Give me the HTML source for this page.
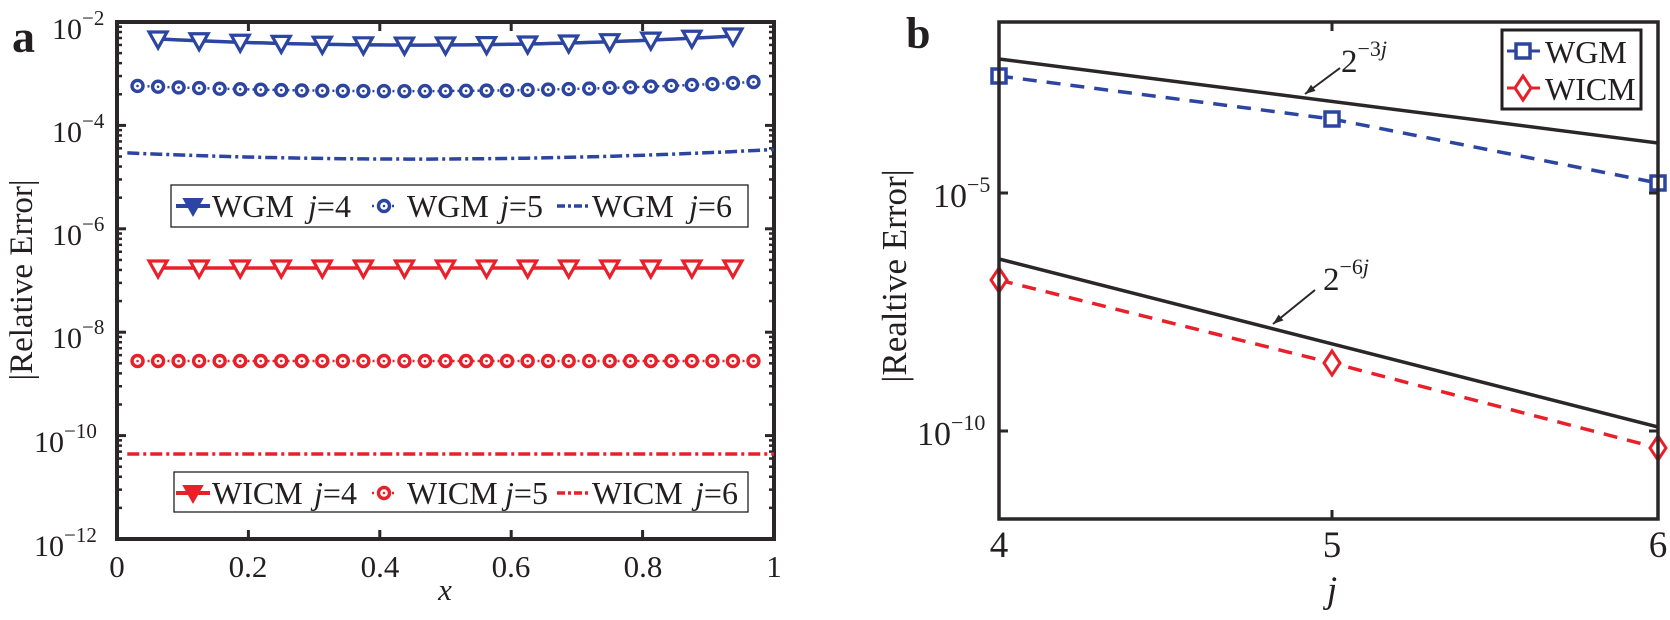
<!DOCTYPE html>
<html><head><meta charset="utf-8"><style>
html,body{margin:0;padding:0;background:#fff;}
svg{display:block;font-family:"Liberation Serif",serif;}
</style></head><body>
<svg id="s" width="1670" height="620" viewBox="0 0 1670 620" xmlns="http://www.w3.org/2000/svg">
<rect width="1670" height="620" fill="#fff"/>
<rect x="171" y="185" width="577" height="42" fill="#fff" stroke="#231f20" stroke-width="1.3"/>
<rect x="174" y="472" width="574" height="40" fill="#fff" stroke="#231f20" stroke-width="1.3"/>
<rect x="1502" y="30" width="139" height="79" fill="#fff" stroke="#231f20" stroke-width="3"/>
<g id="g"></g>
<!-- Panel a texts -->
<text x="12" y="52" font-size="46" font-weight="bold" fill="#231f20">a</text>
<g font-size="30" fill="#231f20">
<text x="52" y="39">10<tspan font-size="21" dy="-14">−2</tspan></text>
<text x="52" y="142">10<tspan font-size="21" dy="-14">−4</tspan></text>
<text x="52" y="245">10<tspan font-size="21" dy="-14">−6</tspan></text>
<text x="52" y="348">10<tspan font-size="21" dy="-14">−8</tspan></text>
<text x="34" y="452">10<tspan font-size="21" dy="-14">−10</tspan></text>
<text x="34" y="556">10<tspan font-size="21" dy="-14">−12</tspan></text>
</g>
<g font-size="31" fill="#231f20" text-anchor="middle">
<text x="117" y="577">0</text><text x="248" y="577">0.2</text><text x="380" y="577">0.4</text>
<text x="511" y="577">0.6</text><text x="643" y="577">0.8</text><text x="774" y="577">1</text>
<text x="445" y="600" font-style="italic">x</text>
</g>
<text transform="translate(32,280) rotate(-90)" font-size="33" text-anchor="middle" fill="#231f20">|Relative Error|</text>
<g font-size="32" fill="#231f20">
<text x="212" y="217">WGM</text><text x="308" y="217"><tspan font-style="italic">j</tspan>=4</text>
<text x="407" y="217">WGM</text><text x="500" y="217"><tspan font-style="italic">j</tspan>=5</text>
<text x="592" y="217">WGM</text><text x="689" y="217"><tspan font-style="italic">j</tspan>=6</text>
<text x="212" y="504">WICM</text><text x="314" y="504"><tspan font-style="italic">j</tspan>=4</text>
<text x="407" y="504">WICM</text><text x="505" y="504"><tspan font-style="italic">j</tspan>=5</text>
<text x="592" y="504">WICM</text><text x="695" y="504"><tspan font-style="italic">j</tspan>=6</text>
</g>
<!-- Panel b texts -->
<text x="906" y="48" font-size="44" font-weight="bold" fill="#231f20">b</text>
<g font-size="34" fill="#231f20">
<text x="933" y="207">10<tspan font-size="22" dy="-15">−5</tspan></text>
<text x="917" y="445">10<tspan font-size="22" dy="-15">−10</tspan></text>
</g>
<g font-size="37" fill="#231f20" text-anchor="middle">
<text x="999" y="557">4</text><text x="1332" y="557">5</text><text x="1658" y="557">6</text>
<text x="1332" y="602" font-style="italic">j</text>
</g>
<text transform="translate(906,276) rotate(-90)" font-size="35" text-anchor="middle" fill="#231f20">|Realtive Error|</text>
<g font-size="33" fill="#231f20">
<text x="1341" y="72">2<tspan font-size="22" dy="-16">−3<tspan font-style="italic">j</tspan></tspan></text>
<text x="1323" y="290">2<tspan font-size="22" dy="-16">−6<tspan font-style="italic">j</tspan></tspan></text>
</g>
<g font-size="32" fill="#231f20">
<text x="1545" y="63">WGM</text>
<text x="1545" y="100">WICM</text>
</g>
</svg>
<script>
var NS="http://www.w3.org/2000/svg",G=document.getElementById('g');
function el(t,a){var e=document.createElementNS(NS,t);for(var k in a)e.setAttribute(k,a[k]);G.appendChild(e);return e;}
var B="#2c45a0",R="#e8202a",K="#2b2627";
var L=117,Rt=774,T=22,Bt=539,dec=103.4;
function X(x){return L+(Rt-L)*x;}
for(var d=0;d<5;d++){for(var m=2;m<10;m++){var y=Bt-(d*dec+Math.log10(m)*dec);
 el('line',{x1:L,y1:y,x2:L+5,y2:y,stroke:K,'stroke-width':2.5});el('line',{x1:Rt,y1:y,x2:Rt-5,y2:y,stroke:K,'stroke-width':2.5});}}
for(var d=0;d<=5;d++){var y=Bt-d*dec;el('line',{x1:L,y1:y,x2:L+9,y2:y,stroke:K,'stroke-width':3});el('line',{x1:Rt,y1:y,x2:Rt-9,y2:y,stroke:K,'stroke-width':3});}
for(var i=1;i<5;i++){var x=X(i*0.2);el('line',{x1:x,y1:Bt,x2:x,y2:Bt-9,stroke:K,'stroke-width':3});el('line',{x1:x,y1:T,x2:x,y2:T+9,stroke:K,'stroke-width':3});}
el('rect',{x:L,y:T,width:Rt-L,height:Bt-T,fill:'none',stroke:K,'stroke-width':4});
function tri(x,y,c){el('path',{d:'M'+(x-9)+','+(y-7)+' L'+(x+9)+','+(y-7)+' L'+x+','+(y+9)+' Z',fill:'#fff',stroke:c,'stroke-width':3.2});}
function triF(x,y,c){el('path',{d:'M'+(x-9)+','+(y-7)+' L'+(x+9)+','+(y-7)+' L'+x+','+(y+9)+' Z',fill:c,stroke:c,'stroke-width':2});}
function circ(x,y,c){el('circle',{cx:x,cy:y,r:5.5,fill:'#fff',stroke:c,'stroke-width':3.4});el('circle',{cx:x,cy:y,r:1.3,fill:c});}
function curve(b,c,y0,x0,x1,n){var p=[];for(var i=0;i<=n;i++){var x=x0+(x1-x0)*i/n,t=2*x-1;p.push(X(x).toFixed(1)+','+(y0+b*t*t+c*t).toFixed(1));}return p.join(' ');}
el('polyline',{points:curve(-9.8,-1.7,45,1/16,15/16,60),fill:'none',stroke:B,'stroke-width':3.5});
for(var k=1;k<16;k++){var x=k/16,t=2*x-1;tri(X(x),45-9.8*t*t-1.7*t,B);}
el('polyline',{points:curve(-8,-2.1,91,1/32,31/32,60),fill:'none',stroke:B,'stroke-width':2.5,'stroke-dasharray':'2,3'});
for(var k=1;k<32;k++){var x=k/32,t=2*x-1;circ(X(x),91-8*t*t-2.1*t,B);}
el('polyline',{points:curve(-8,-1.5,159,1/64,1,60),fill:'none',stroke:B,'stroke-width':3.5,'stroke-dasharray':'12,4,3,4'});
el('line',{x1:X(1/16),y1:268,x2:X(15/16),y2:268,stroke:R,'stroke-width':3.5});
for(var k=1;k<16;k++)tri(X(k/16),268,R);
el('line',{x1:X(1/32),y1:361,x2:X(31/32),y2:361,stroke:R,'stroke-width':2.5,'stroke-dasharray':'2,3'});
for(var k=1;k<32;k++)circ(X(k/32),361,R);
el('line',{x1:X(1/64),y1:454,x2:Rt,y2:454,stroke:R,'stroke-width':3.5,'stroke-dasharray':'12,4,3,4'});
el('line',{x1:176,y1:206,x2:210,y2:206,stroke:B,'stroke-width':4});triF(193,206,B);
el('line',{x1:372,y1:206,x2:396,y2:206,stroke:B,'stroke-width':2.5,'stroke-dasharray':'2,3'});circ(384,206,B);
el('line',{x1:557,y1:206,x2:590,y2:206,stroke:B,'stroke-width':3.5,'stroke-dasharray':'8,3,3,3'});
el('line',{x1:176,y1:493,x2:210,y2:493,stroke:R,'stroke-width':4});triF(193,493,R);
el('line',{x1:372,y1:493,x2:396,y2:493,stroke:R,'stroke-width':2.5,'stroke-dasharray':'2,3'});circ(384,493,R);
el('line',{x1:557,y1:493,x2:590,y2:493,stroke:R,'stroke-width':3.5,'stroke-dasharray':'8,3,3,3'});
var bl=999,br=1658,bt=22,bb=519;
[193,431].forEach(function(y){el('line',{x1:bl,y1:y,x2:bl+9,y2:y,stroke:K,'stroke-width':3});el('line',{x1:br,y1:y,x2:br-9,y2:y,stroke:K,'stroke-width':3});});
el('line',{x1:1332,y1:bb,x2:1332,y2:bb-9,stroke:K,'stroke-width':3});el('line',{x1:1332,y1:bt,x2:1332,y2:bt+9,stroke:K,'stroke-width':3});
el('line',{x1:bl,y1:59,x2:br,y2:143,stroke:K,'stroke-width':3.5});
el('line',{x1:bl,y1:259,x2:br,y2:427,stroke:K,'stroke-width':3.5});
el('polyline',{points:bl+',76 1332,119 '+br+',183',fill:'none',stroke:B,'stroke-width':3.5,'stroke-dasharray':'14,10'});
el('polyline',{points:bl+',280 1332,363 '+br+',448',fill:'none',stroke:R,'stroke-width':3.5,'stroke-dasharray':'14,10'});
function sq(x,y){el('rect',{x:x-7,y:y-7,width:14,height:14,fill:'#fff',stroke:B,'stroke-width':3.5});}
function dia(x,y){el('path',{d:'M'+x+','+(y-12)+' L'+(x+8)+','+y+' L'+x+','+(y+12)+' L'+(x-8)+','+y+' Z',fill:'#fff',stroke:R,'stroke-width':3});}
sq(bl,76);sq(1332,119);sq(br,183);dia(bl,280);dia(1332,363);dia(br,448);
el('rect',{x:bl,y:bt,width:br-bl,height:bb-bt,fill:'none',stroke:K,'stroke-width':3.5});
function arrow(x1,y1,x2,y2){el('line',{x1:x1,y1:y1,x2:x2,y2:y2,stroke:K,'stroke-width':2});var a=Math.atan2(y2-y1,x2-x1),s=11;
 el('path',{d:'M'+x2+','+y2+' L'+(x2-s*Math.cos(a-0.35))+','+(y2-s*Math.sin(a-0.35))+' L'+(x2-s*Math.cos(a+0.35))+','+(y2-s*Math.sin(a+0.35))+' Z',fill:K});}
arrow(1340,68,1305,94);arrow(1315,290,1273,324);
el('line',{x1:1507,y1:51,x2:1540,y2:51,stroke:B,'stroke-width':3});sq(1523,51);
el('line',{x1:1507,y1:88,x2:1540,y2:88,stroke:R,'stroke-width':3});dia(1523,88);
</script>
</body></html>
